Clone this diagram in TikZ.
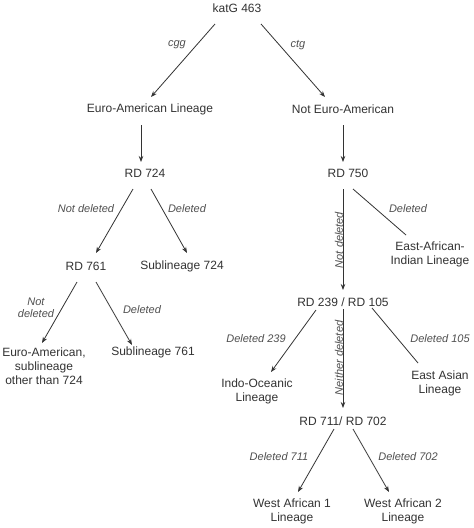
\documentclass[tikz,border=0pt]{standalone}
\usepackage{fontspec}
\setmainfont{Liberation Sans}
\usetikzlibrary{arrows.meta}
\definecolor{ntext}{HTML}{333333}
\definecolor{ltext}{HTML}{505050}
\definecolor{lcol}{HTML}{333333}
\begin{document}
\begin{tikzpicture}[x=1pt,y=-1pt,
  box/.style={text=ntext, font=\fontsize{12}{14}\selectfont, inner sep=0pt, align=center},
  lab/.style={text=ltext, font=\fontsize{11}{12}\selectfont\itshape, inner sep=0pt, align=center},
  arr/.style={draw=lcol, line width=0.8pt, -{Stealth[length=6pt,width=4.5pt]}},
  ln/.style={draw=lcol, line width=0.8pt}]
\useasboundingbox[fill=white] (0,0) rectangle (474,528);
% nodes
\node[box] (k) at (237,8) {katG 463};
\node[box] (ea) at (150,109) {Euro-American Lineage};
\node[box] (nea) at (343,109) {Not Euro-American};
\node[box] (r724) at (145,173) {RD 724};
\node[box] (r750) at (348,173) {RD 750};
\node[box] (r761) at (86,266) {RD 761};
\node[box] (s724) at (182,266) {Sublineage 724};
\node[box] (eai) at (430,254) {East-African-\\Indian Lineage};
\node[box] (r239) at (343,302) {RD 239 / RD 105};
\node[box] (eam) at (44,366) {Euro-American,\\sublineage\\other than 724};
\node[box] (s761) at (153,352) {Sublineage 761};
\node[box] (io) at (257,391) {Indo-Oceanic\\Lineage};
\node[box] (eas) at (440,383) {East Asian\\Lineage};
\node[box] (r711) at (343,421) {RD 711/ RD 702};
\node[box] (wa1) at (292,511) {West African 1\\Lineage};
\node[box] (wa2) at (403,511) {West African 2\\Lineage};
% labels
\node[lab] (lcgg) at (177,45) {cgg};
\node[lab] (lctg) at (298,45) {ctg};
\node[lab] (lnd1) at (86,209) {Not deleted};
\node[lab] (ld1) at (187,209) {Deleted};
\node[lab, rotate=90] (lnd2) at (339,240) {Not deleted};
\node[lab] (ld2) at (408,209) {Deleted};
\node[lab] (lnd3) at (36,308) {Not\\deleted};
\node[lab] (ld3) at (142,310) {Deleted};
\node[lab] (ld239) at (256,339) {Deleted 239};
\node[lab, rotate=90] (lnei) at (339,358) {Neither deleted};
\node[lab] (ld105) at (440,339) {Deleted 105};
\node[lab] (ld711) at (279,457) {Deleted 711};
\node[lab] (ld702) at (408,457) {Deleted 702};
% connectors
\draw[arr] ([shift={(-22,16)}]k.center) -- ([shift={(1,-12)}]ea.center);
\draw[arr] ([shift={(24,16)}]k.center) -- ([shift={(-18,-12)}]nea.center);
\draw[arr] ([shift={(-9,16)}]ea.center) -- ([shift={(-4,-11)}]r724.center);
\draw[arr] ([shift={(0,16)}]nea.center) -- ([shift={(-5,-11)}]r750.center);
\draw[arr] ([shift={(-12,16)}]r724.center) -- ([shift={(10,-13)}]r761.center);
\draw[arr] ([shift={(6,16)}]r724.center) -- ([shift={(5,-13)}]s724.center);
\draw[arr] ([shift={(-5,16)}]r750.center) -- ([shift={(0,-12)}]r239.center);
\draw[ln] ([shift={(5,16)}]r750.center) -- ([shift={(-24,-19)}]eai.center);
\draw[arr] ([shift={(-9,16)}]r761.center) -- ([shift={(-2,-23)}]eam.center);
\draw[arr] ([shift={(10,16)}]r761.center) -- ([shift={(-21,-7)}]s761.center);
\draw[arr] ([shift={(-27,8)}]r239.center) -- ([shift={(14,-19)}]io.center);
\draw[arr] ([shift={(0,7)}]r239.center) -- ([shift={(0,-13)}]r711.center);
\draw[ln] ([shift={(29,6)}]r239.center) -- ([shift={(-22,-20)}]eas.center);
\draw[arr] ([shift={(-9,8)}]r711.center) -- ([shift={(6,-19)}]wa1.center);
\draw[arr] ([shift={(10,8)}]r711.center) -- ([shift={(-14,-19)}]wa2.center);
\end{tikzpicture}
\end{document}
